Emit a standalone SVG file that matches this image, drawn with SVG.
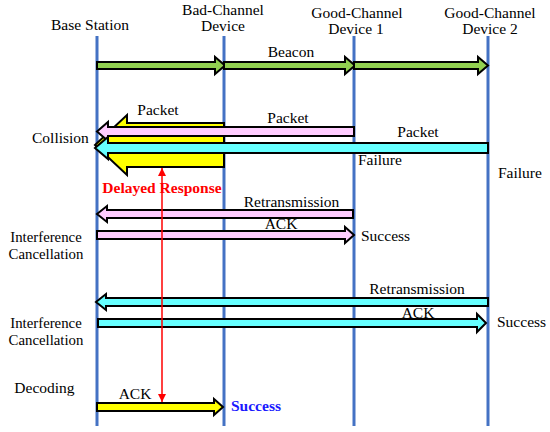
<svg xmlns="http://www.w3.org/2000/svg" width="550" height="432" viewBox="0 0 550 432">
<style>
text{font-family:"Liberation Serif","Times New Roman",serif;font-size:15.5px;fill:#000}
.c{text-anchor:middle}
.s{font-size:14.8px}
.life{stroke:#4472C4;stroke-width:3;fill:none}
.arr{stroke:#000;stroke-width:2;stroke-linejoin:miter}
.g{fill:#92D050}.y{fill:#FFFF00}.p{fill:#FFCCFF}.cy{fill:#66FFFF}
.red{fill:#FF0000;font-weight:bold}
.blue{fill:#1A1AFF;font-weight:bold}
</style>
<defs>
<marker id="rh" viewBox="0 0 10 10" refX="10" refY="5" markerWidth="8" markerHeight="10" markerUnits="userSpaceOnUse" orient="auto-start-reverse">
<path d="M0,0 L10,5 L0,10 Z" fill="#FF0000"/>
</marker>
</defs>
<rect width="550" height="432" fill="#fff"/>
<g id="base-station">
<line class="life" x1="97" y1="36" x2="97" y2="426"/>
<text class="c" x="90" y="30">Base Station</text>
</g>
<g id="bad-channel-device">
<line class="life" x1="224" y1="36" x2="224" y2="426"/>
<text class="c" x="223" y="15">Bad-Channel</text>
<text class="c" x="223" y="31">Device</text>
</g>
<g id="good-channel-device-1">
<line class="life" x1="354" y1="36" x2="354" y2="426"/>
<text class="c" x="357" y="18">Good-Channel</text>
<text class="c" x="356" y="34">Device 1</text>
</g>
<g id="good-channel-device-2">
<line class="life" x1="488" y1="36" x2="488" y2="426"/>
<text class="c" x="490" y="18">Good-Channel</text>
<text class="c" x="490" y="34">Device 2</text>
</g>
<g id="connectors">
<polygon class="arr g" points="97,62 215,62 215,57 225,65.5 215,74 215,69 97,69"/>
<polygon class="arr g" points="224,62 345,62 345,57 355,65.5 345,74 345,69 224,69"/>
<polygon class="arr g" points="354,62 478,62 478,57 488,65.5 478,74 478,69 354,69"/>
<polygon class="arr y" points="224,123 127,123 127,115 95,145 127,175 127,167 224,167"/>
<polygon class="arr p" points="354,127 108,127 108,122 97,131.5 108,141 108,136 354,136"/>
<polygon class="arr cy" points="488,143 108,143 108,137 95,148 108,159 108,153 488,153"/>
<polygon class="arr p" points="353,210 107,210 107,206 97,214 107,222 107,218 353,218"/>
<polygon class="arr p" points="97,231 345,231 345,227 354,235 345,243 345,239 97,239"/>
<polygon class="arr cy" points="488,298 106,298 106,294 96,302 106,310 106,306 488,306"/>
<polygon class="arr cy" points="98,319 477,319 477,314 486,323 477,332 477,327 98,327"/>
<polygon class="arr y" points="97,403 214,403 214,399 223,407 214,415 214,411 97,411"/>
<line x1="162" y1="168" x2="162" y2="402" stroke="#FF0000" stroke-width="1.5" marker-start="url(#rh)" marker-end="url(#rh)"/>
</g>
<g id="labels">
<text class="c" x="291" y="57">Beacon</text>
<text class="c" x="158" y="115">Packet</text>
<text class="c" x="288" y="123">Packet</text>
<text class="c" x="418" y="137">Packet</text>
<text x="32" y="143">Collision</text>
<text x="358" y="165">Failure</text>
<text x="498" y="178">Failure</text>
<text class="c red" x="162" y="193">Delayed Response</text>
<text class="c" x="291.5" y="207">Retransmission</text>
<text class="c" x="281" y="229">ACK</text>
<text x="361" y="241">Success</text>
<text class="c s" x="46" y="242">Interference</text>
<text class="c s" x="46" y="259">Cancellation</text>
<text class="c" x="417" y="294">Retransmission</text>
<text class="c" x="418" y="318">ACK</text>
<text x="497" y="327">Success</text>
<text class="c s" x="46" y="328">Interference</text>
<text class="c s" x="46" y="345">Cancellation</text>
<text class="c" x="44.5" y="393">Decoding</text>
<text class="c" x="135" y="399">ACK</text>
<text class="blue" x="231" y="411">Success</text>
</g>
</svg>
